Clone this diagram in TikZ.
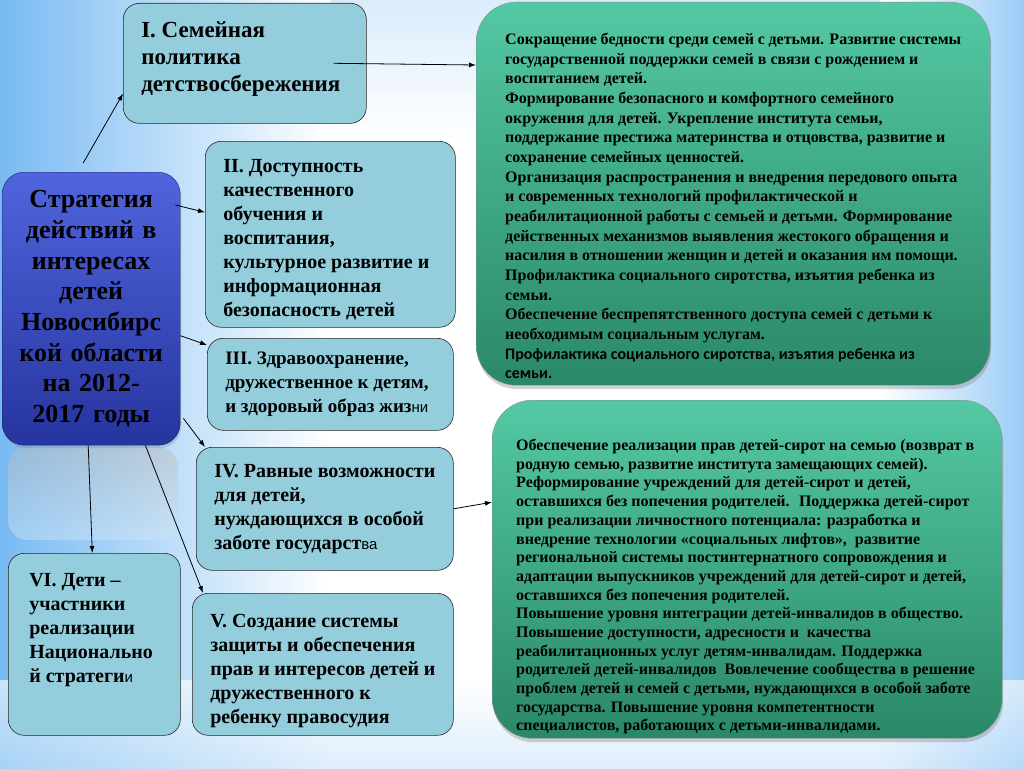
\documentclass[tikz,border=0pt]{standalone}
\usepackage{fontspec}
\setmainfont{Liberation Serif}
\newfontfamily\sansfont{Carlito}
\newfontfamily\plainsans{Liberation Sans}
\usepackage{tikz}
\usetikzlibrary{arrows.meta,shadows}
\definecolor{bgblue}{RGB}{120,186,242}
\definecolor{stagefill}{RGB}{148,206,220}
\definecolor{greentop}{RGB}{84,200,164}
\definecolor{greenbottom}{RGB}{42,136,104}
\definecolor{bluetop}{RGB}{80,100,220}
\definecolor{bluebottom}{RGB}{38,52,158}
\tikzstyle{stage}=[draw=black!85,line width=0.6pt,fill=stagefill,rounded corners=16pt,anchor=north west,inner xsep=18pt,font=\bfseries\fontsize{20}{24}\selectfont]
\tikzstyle{goals}=[draw=black!45,rounded corners=40pt,anchor=north west,top color=greentop,bottom color=greenbottom,font=\bfseries\fontsize{16}{19.65}\selectfont,drop shadow={opacity=.35,shadow xshift=1pt,shadow yshift=-4pt}]
\tikzstyle{strategy}=[rounded corners=22pt,anchor=north west,top color=bluetop,bottom color=bluebottom,draw=bluebottom!70!black,minimum width=178pt,minimum height=273pt,text width=170pt,inner sep=4pt,align=center,font=\bfseries\fontsize{26}{30.7}\selectfont,drop shadow={opacity=.3,shadow xshift=1pt,shadow yshift=-3pt}]
\newcommand{\tailsans}[1]{{\plainsans\mdseries\fontsize{15}{18}\selectfont #1}}

\begin{document}
\begin{tikzpicture}[x=1pt,y=-1pt,>={Latex[length=7pt,width=5pt]}]
      \useasboundingbox (0,0) rectangle (1024,768);
      % background
      \fill[white] (0,0) rectangle (1024,768);
      \shade[left color=bgblue,right color=white] (0,0) rectangle (330,768);
      \shade[left color=white,right color=bgblue!75] (880,0) rectangle (1024,768);
      \shade[top color=bgblue!45,bottom color=white,opacity=.6] (330,0) rectangle (880,140);
      \shade[top color=white,bottom color=bgblue!40,opacity=.6] (0,680) rectangle (1024,768);
      % reflection under the strategy box
      \shade[top color=gray!55,bottom color=bgblue!35!white,opacity=.45,rounded corners=20pt] (8,447) rectangle (178,540);

      \node[strategy] (m) at (2,172) {Стратегия действий в интересах детей Новосибирс кой области на 2012-2017 годы};

      \node[stage,inner ysep=18pt,font=\bfseries\fontsize{23}{27}\selectfont] (s1) at (123,3)
        {\parbox[t][84pt][t]{207pt}{\raggedright I. Семейная\\ политика\\ детствосбережения}};
      \node[stage,inner ysep=18pt] (s2) at (205,141)
        {\parbox[t][150pt][t]{214pt}{\raggedright II. Доступность\\ качественного\\ обучения и\\ воспитания,\\ культурное развитие и\\ информационная\\ безопасность детей}};
      \node[stage,inner ysep=6pt,font=\bfseries\fontsize{19}{24}\selectfont] (s3) at (207,338)
        {\parbox[t][80pt][c]{210pt}{\raggedright III. Здравоохранение,\\ дружественное к детям,\\ и здоровый образ жиз\tailsans{ни}}};
      \node[stage,inner ysep=6pt] (s4) at (196,447)
        {\parbox[t][111pt][c]{221pt}{\raggedright IV. Равные возможности\\ для детей,\\ нуждающихся в особой\\ заботе государст\tailsans{ва}}};
      \node[stage,inner ysep=21pt] (s5) at (192,593)
        {\parbox[t][100pt][t]{225pt}{\raggedright V. Создание системы\\ защиты и обеспечения\\ прав и интересов детей и\\ дружественного к\\ ребенку правосудия}};
      \node[stage,inner ysep=20pt,inner xsep=21pt] (s6) at (8,553)
        {\parbox[t][142pt][t]{130pt}{\raggedright VI. Дети –\\ участники\\ реализации\\ Национально\\ й стратеги\tailsans{и}}};

      \node[goals,inner xsep=29pt,inner ysep=31pt] (g1) at (476,2)
        {\parbox[t][321pt][t]{456pt}{\raggedright
        Сокращение бедности среди семей с детьми. Развитие системы\\
        государственной поддержки семей в связи с рождением и\\
        воспитанием детей.\\
        Формирование безопасного и комфортного семейного\\
        окружения для детей. Укрепление института семьи,\\
        поддержание престижа материнства и отцовства, развитие и\\
        сохранение семейных ценностей.\\
        Организация распространения и внедрения передового опыта\\
        и современных технологий профилактической и\\
        реабилитационной работы с семьей и детьми. Формирование\\
        действенных механизмов выявления жестокого обращения и\\
        насилия в отношении женщин и детей и оказания им помощи.\\
        Профилактика социального сиротства, изъятия ребенка из\\
        семьи.\\
        Обеспечение беспрепятственного доступа семей с детьми к\\
        необходимым социальным услугам.\\
        {\sansfont Профилактика социального сиротства, изъятия ребенка из}\\
        {\sansfont семьи.}}};
      \node[goals,inner xsep=24pt,inner ysep=39pt,font=\bfseries\fontsize{16}{18.67}\selectfont] (g2) at (492,400)
        {\parbox[t][260pt][t]{462pt}{\raggedright
        Обеспечение реализации прав детей-сирот на семью (возврат в\\
        родную семью, развитие института замещающих семей).\\
        Реформирование учреждений для детей-сирот и детей,\\
        оставшихся без попечения родителей. \ Поддержка детей-сирот\\
        при реализации личностного потенциала: разработка и\\
        внедрение технологии «социальных лифтов», \ развитие\\
        региональной системы постинтернатного сопровождения и\\
        адаптации выпускников учреждений для детей-сирот и детей,\\
        оставшихся без попечения родителей.\\
        Повышение уровня интеграции детей-инвалидов в общество.\\
        Повышение доступности, адресности и \ качества\\
        реабилитационных услуг детям-инвалидам. Поддержка\\
        родителей детей-инвалидов \ Вовлечение сообщества в решение\\
        проблем детей и семей с детьми, нуждающихся в особой заботе\\
        государства. Повышение уровня компетентности\\
        специалистов, работающих с детьми-инвалидами.}};

      \draw[->,line width=0.8pt] ([xshift=-8pt,yshift=9pt]m.north) -- ([yshift=30pt]s1.south west);
      \draw[->,line width=0.8pt] ([xshift=-5pt,yshift=-33pt]m.north east) -- ([yshift=22pt]s2.west);
      \draw[->,line width=0.8pt] ([yshift=-27pt]m.east) -- ([yshift=-7pt]s3.north west);
      \draw[->,line width=0.8pt] ([xshift=3pt,yshift=27pt]m.south east) -- ([xshift=9pt]s4.north west);
      \draw[->,line width=0.8pt] ([xshift=-3pt]m.south) -- ([xshift=-2pt]s6.north);
      \draw[->,line width=0.8pt] ([xshift=-35pt]m.south east) -- ([xshift=11pt]s5.north west);
      \draw[->,line width=0.8pt] ([xshift=-33pt]s1.east) -- ([yshift=-63pt]g1.north west);
      \draw[->,line width=0.8pt] (s4.east) -- ([yshift=67pt]g2.west);
    \end{tikzpicture}
\end{document}
